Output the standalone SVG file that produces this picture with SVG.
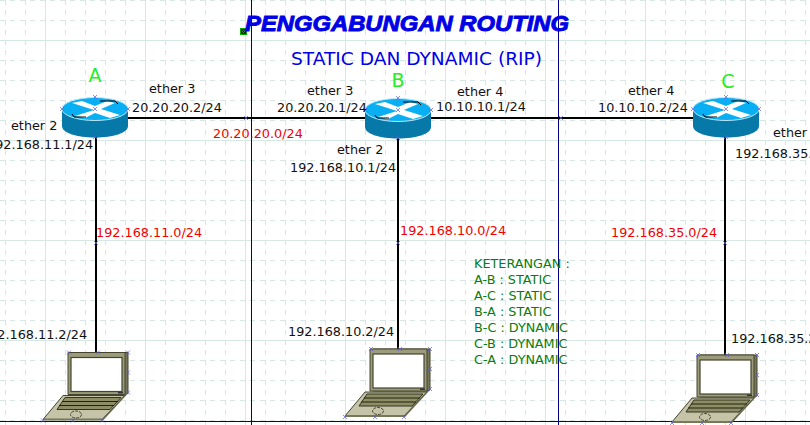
<svg xmlns="http://www.w3.org/2000/svg" xmlns:xlink="http://www.w3.org/1999/xlink" width="810" height="425" viewBox="0 0 810 425">
<style>
text{font-family:"DejaVu Sans",sans-serif;font-size:12.800px;fill:#111}
.net{fill:#f00000}
.ket{fill:#0a7d0a}
.nm{font-size:19px;fill:#22ee22}
.gd{fill:none;stroke:#d6e7e4;stroke-width:1;stroke-dasharray:5 5}
.gs{fill:none;stroke:#d6e7e4;stroke-width:1}
.wire{stroke:#000;stroke-width:2;fill:none}
.guide{stroke:#000080;stroke-width:1;fill:none}
.h{stroke:#5a5ae0;stroke-width:.7;fill:none}
</style>
<defs>
<path id="x" d="M-2-2 2 2M2-2-2 2" class="h"/>
<g id="router">
<path d="M-33 0V17C-33 24-18 28.500 0 28.500S33 24 33 17V0Z" fill="#0779a8"/>
<ellipse cx="0" cy="0" rx="33" ry="11.500" fill="#0aaef2" stroke="#bfe8f8" stroke-width="1"/>
<path d="M-1 1-20 7-10 9 0 4 15 9 25 6 6 0 20-6 12-8 0-3-13-8-23-6Z" fill="#fff"/>
<path d="M5-8H20L23-5M-23 5-21 8H-9" stroke="#000" stroke-width="1" fill="none"/>
<use xlink:href="#x" x="0" y="-12"/><use xlink:href="#x" x="0" y="0"/><use xlink:href="#x" x="-33" y="0"/><use xlink:href="#x" x="33" y="0"/><use xlink:href="#x" x="0" y="28"/>
</g>
<g id="laptop">
<path d="M3 0H60V41L57 42H3Z" fill="#77775a" stroke="#44442e" stroke-width="1"/>
<path d="M0 0H57V42H0Z" fill="#9c9c7c" stroke="#44442e" stroke-width="1"/>
<rect x="3" y="5" width="51" height="34" fill="#fff" stroke="#44442e" stroke-width="1.200"/>
<rect x="50" y="39.500" width="5" height="1.500" fill="#333"/>
<path d="M-5 43H57L34 67H-25Z" fill="#c5c4a8" stroke="#44442e" stroke-width="1"/>
<path d="M57 42H59L35 68H33Z" fill="#66664a"/>
<path d="M-25 66H34V68H-25Z" fill="#77775a"/>
<path d="M-3 45H53L42 57H-11Z" fill="#8e8e66" stroke="#33331f" stroke-width="1"/>
<path d="M-6 49H50M-9 53H46" stroke="#22220f" stroke-width="1.200"/>
<ellipse cx="8" cy="62" rx="5.500" ry="3.500" fill="none" stroke="#44442e" stroke-width="1" stroke-dasharray="3 1"/>
<use xlink:href="#x" x="1" y="0"/><use xlink:href="#x" x="30" y="0"/><use xlink:href="#x" x="60" y="0"/><use xlink:href="#x" x="60" y="20"/><use xlink:href="#x" x="60" y="40"/><use xlink:href="#x" x="-25" y="68"/><use xlink:href="#x" x="5" y="68"/><use xlink:href="#x" x="34" y="68"/>
</g>
</defs>
<rect width="810" height="425" fill="#fff"/>
<g id="grid">
<path class="gd" d="M5.500 0V425M25.500 0V425M65.500 0V425M85.500 0V425M105.500 0V425M125.500 0V425M165.500 0V425M185.500 0V425M205.500 0V425M225.500 0V425M265.500 0V425M285.500 0V425M305.500 0V425M325.500 0V425M365.500 0V425M385.500 0V425M405.500 0V425M425.500 0V425M465.500 0V425M485.500 0V425M505.500 0V425M525.500 0V425M565.500 0V425M585.500 0V425M605.500 0V425M625.500 0V425M665.500 0V425M685.500 0V425M705.500 0V425M725.500 0V425M765.500 0V425M785.500 0V425M805.500 0V425"/>
<path class="gd" d="M0 .5H810M0 20.500H810M0 60.500H810M0 80.500H810M0 100.500H810M0 120.500H810M0 160.500H810M0 180.500H810M0 200.500H810M0 220.500H810M0 260.500H810M0 280.500H810M0 300.500H810M0 320.500H810M0 360.500H810M0 380.500H810M0 400.500H810M0 420.500H810"/>
<path class="gs" d="M45.500 0V425M145.500 0V425M245.500 0V425M345.500 0V425M445.500 0V425M545.500 0V425M645.500 0V425M745.500 0V425M0 40.500H810M0 140.500H810M0 240.500H810M0 340.500H810"/>
<path class="guide" d="M251.500 0V425M558.500 0V425M0 421.500H810"/>
</g>
<g id="connectors">
<path class="wire" d="M96 118H725M96 130V352M398 130V349M725 130V355"/>
</g>
<g id="handles">
<use xlink:href="#x" x="246" y="118"/><use xlink:href="#x" x="561" y="118"/><use xlink:href="#x" x="96" y="243"/><use xlink:href="#x" x="398" y="243"/><use xlink:href="#x" x="725" y="243"/>
</g>
<g id="router-a"><use xlink:href="#router" x="95" y="109"/><text class="nm" x="95" y="82" text-anchor="middle">A</text></g>
<g id="router-b"><use xlink:href="#router" x="398" y="110"/><text class="nm" x="398" y="87" text-anchor="middle">B</text></g>
<g id="router-c"><use xlink:href="#router" x="726" y="109"/><text class="nm" x="728" y="88" text-anchor="middle">C</text></g>
<g id="laptop-a"><use xlink:href="#laptop" x="68" y="352.500"/></g>
<g id="laptop-b"><use xlink:href="#laptop" x="370" y="349"/></g>
<g id="laptop-c"><use xlink:href="#laptop" x="697" y="355"/></g>
<g id="labels">
<text x="149" y="93">ether 3</text><text x="132" y="112">20.20.20.2/24</text>
<text x="11" y="130">ether 2</text><text x="-13" y="149">192.168.11.1/24</text>
<text x="307" y="95">ether 3</text><text x="277" y="112">20.20.20.1/24</text>
<text x="457" y="96">ether 4</text><text x="436" y="111">10.10.10.1/24</text>
<text x="337" y="154">ether 2</text><text x="290" y="172">192.168.10.1/24</text>
<text x="628" y="95">ether 4</text><text x="598" y="112">10.10.10.2/24</text>
<text x="773" y="137">ether 2</text><text x="735" y="158">192.168.35.1/24</text>
<text x="-19" y="339">192.168.11.2/24</text><text x="288" y="336">192.168.10.2/24</text><text x="731" y="343">192.168.35.2/24</text>
<text class="net" x="213" y="138">20.20.20.0/24</text><text class="net" x="96" y="237">192.168.11.0/24</text><text class="net" x="400" y="235">192.168.10.0/24</text><text class="net" x="611" y="237">192.168.35.0/24</text>
<text class="ket" x="474" y="268">KETERANGAN :</text><text class="ket" x="474" y="284">A-B : STATIC</text><text class="ket" x="474" y="300">A-C : STATIC</text><text class="ket" x="474" y="316">B-A : STATIC</text><text class="ket" x="474" y="332">B-C : DYNAMIC</text><text class="ket" x="474" y="348">C-B : DYNAMIC</text><text class="ket" x="474" y="364">C-A : DYNAMIC</text>
</g>
<g id="title">
<rect x="240" y="28" width="7" height="7" fill="#0a0"/><path d="M241.500 29.500H245.500V33.500H241.500ZM241.500 29.500 245.500 33.500M245.500 29.500 241.500 33.500" fill="none" stroke="#000" stroke-width=".7"/>
<text x="245" y="31" textLength="324" lengthAdjust="spacingAndGlyphs" style="font-family:'Liberation Sans',sans-serif;font-size:22px;font-weight:bold;font-style:italic;fill:#0000e6;stroke:#0000e6;stroke-width:.9">PENGGABUNGAN ROUTING</text>
<text x="291" y="65" textLength="251" lengthAdjust="spacingAndGlyphs" style="font-size:17px;fill:#0000e6">STATIC DAN DYNAMIC (RIP)</text>
</g>
</svg>
